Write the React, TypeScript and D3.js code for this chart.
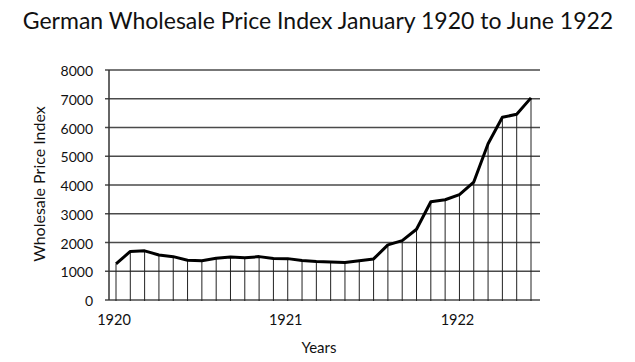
import React, { useEffect, useRef } from 'react';
import * as d3 from 'd3';

// monthly wholesale price index, Jan 1920 .. Jun 1922
const months: string[] = [
  '1920-01', '1920-02', '1920-03', '1920-04', '1920-05', '1920-06',
  '1920-07', '1920-08', '1920-09', '1920-10', '1920-11', '1920-12',
  '1921-01', '1921-02', '1921-03', '1921-04', '1921-05', '1921-06',
  '1921-07', '1921-08', '1921-09', '1921-10', '1921-11', '1921-12',
  '1922-01', '1922-02', '1922-03', '1922-04', '1922-05', '1922-06',
];
const priceIndex: number[] = [
  1256, 1690, 1709, 1567, 1508, 1382, 1367, 1450, 1498, 1466, 1509, 1440,
  1439, 1376, 1338, 1326, 1308, 1366, 1428, 1917, 2067, 2460, 3416, 3487,
  3665, 4103, 5433, 6355, 6458, 7030,
];
const yearLabels: string[] = ['1920', '1921', '1922'];
const yTicks: number[] = [0, 1000, 2000, 3000, 4000, 5000, 6000, 7000, 8000];

function App() {
  const ref = useRef<SVGSVGElement>(null);

  useEffect(() => {
    const svg = d3.select(ref.current);
    svg.selectAll('*').remove();

    const width = 635;
    const height = 362;
    const margin = { top: 70, left: 109, bottom: 62, right: 95 };
    const font = 'Lato, "Open Sans", sans-serif';

    svg.attr('width', width).attr('height', height);
    svg.append('rect').attr('width', width).attr('height', height).attr('fill', '#fff');

    const x = d3.scalePoint<string>()
      .domain(months)
      .range([116, 531]);
    const y = d3.scaleLinear()
      .domain([0, 8000])
      .range([height - margin.bottom, margin.top]);

    const gridRight = 540;

    // gridlines
    svg.append('g').selectAll('line').data(yTicks).enter().append('line')
      .attr('x1', margin.left - 4)
      .attr('x2', gridRight)
      .attr('y1', d => y(d))
      .attr('y2', d => y(d))
      .attr('stroke', '#4a4a4a')
      .attr('stroke-width', 1.3);

    // y axis line
    svg.append('line')
      .attr('x1', margin.left).attr('x2', margin.left)
      .attr('y1', y(0)).attr('y2', y(8000))
      .attr('stroke', '#333').attr('stroke-width', 1.5);

    // drop lines
    svg.append('g').selectAll('line').data(months).enter().append('line')
      .attr('x1', d => x(d)!)
      .attr('x2', d => x(d)!)
      .attr('y1', y(0) + 1)
      .attr('y2', (d, i) => y(priceIndex[i]))
      .attr('stroke', '#222')
      .attr('stroke-width', 1);

    const line = d3.line<number>()
      .x((d, i) => x(months[i])!)
      .y(d => y(d));

    svg.append('path')
      .datum(priceIndex)
      .attr('d', line)
      .attr('fill', 'none')
      .attr('stroke', '#000')
      .attr('stroke-width', 3)
      .attr('stroke-linejoin', 'round');

    // y tick labels
    svg.append('g').selectAll('text').data(yTicks).enter().append('text')
      .attr('x', 93)
      .attr('y', d => y(d) + 6)
      .attr('text-anchor', 'end')
      .attr('font-family', font)
      .attr('font-size', 14)
      .attr('fill', '#111')
      .text(d => String(d));

    // x tick labels
    svg.append('g').selectAll('text').data(yearLabels).enter().append('text')
      .attr('x', d => x(d + '-01')! - 2)
      .attr('y', 325)
      .attr('text-anchor', 'middle')
      .attr('font-family', font)
      .attr('font-size', 14.5)
      .attr('fill', '#111')
      .text(d => d);

    svg.append('text')
      .attr('x', 319)
      .attr('y', 353)
      .attr('text-anchor', 'middle')
      .attr('font-family', font)
      .attr('font-size', 15)
      .attr('fill', '#111')
      .text('Years');

    svg.append('text')
      .attr('transform', 'translate(45,184) rotate(-90)')
      .attr('text-anchor', 'middle')
      .attr('font-family', font)
      .attr('font-size', 16)
      .attr('fill', '#111')
      .text('Wholesale Price Index');

    svg.append('text')
      .attr('x', 318)
      .attr('y', 29)
      .attr('text-anchor', 'middle')
      .attr('font-family', font)
      .attr('font-size', 23)
      .attr('fill', '#111')
      .text('German Wholesale Price Index January 1920 to June 1922');
  }, []);

  return (
    <div style={{ position: 'absolute', left: 0, top: 0 }}>
      <svg ref={ref}></svg>
    </div>
  );
}

export default App;
